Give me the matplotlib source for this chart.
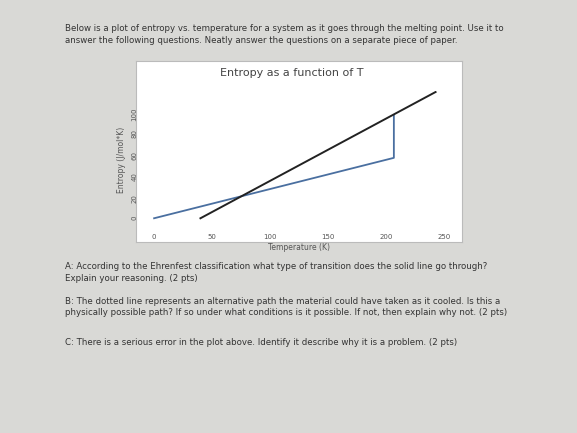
import matplotlib
matplotlib.use("Agg")
import matplotlib.pyplot as plt

blue_T = [0, 207, 207]
blue_S = [0, 56, 95]
black_T = [40, 243]
black_S = [0, 117]
xticks = [0, 50, 100, 150, 200, 250]
yticks = [0, 20, 40, 60, 80, 100]

fig = plt.figure(figsize=(5.77, 4.33), dpi=100)
fig.patch.set_facecolor("#d9d9d6")

fig.text(0.113, 0.945, "Below is a plot of entropy vs. temperature for a system as it goes through the melting point. Use it to\nanswer the following questions. Neatly answer the questions on a separate piece of paper.",
         fontsize=6.2, color="#333333", va="top", linespacing=1.4)

panel = fig.add_axes([0.235, 0.44, 0.565, 0.42])
panel.set_facecolor("white")
panel.set_xticks([]); panel.set_yticks([])
for s in panel.spines.values():
    s.set_color("#bbbbbb")
panel.set_zorder(0)
fig.text(0.505, 0.825, "Entropy as a function of T", ha="center", fontsize=8, color="#444444")

ax = fig.add_axes([0.247, 0.471, 0.542, 0.319])
ax.set_zorder(1)
ax.patch.set_alpha(0)
ax.plot(blue_T, blue_S, color="#4a6fa0", lw=1.3)
ax.plot(black_T, black_S, color="#222222", lw=1.4)
ax.set_xlim(-10, 260)
ax.set_ylim(-10, 118)
ax.set_xticks(xticks)
ax.set_yticks(yticks)
ax.tick_params(labelsize=5, colors="#555555", length=0)
for lab in ax.get_yticklabels():
    lab.set_rotation(90)
for s in ax.spines.values():
    s.set_visible(False)
ax.set_xlabel("Temperature (K)", fontsize=5.5, color="#555555", labelpad=2)
ax.set_ylabel("Entropy (J/mol*K)", fontsize=5.5, color="#555555")

qs = [
    (0.395, "A: According to the Ehrenfest classification what type of transition does the solid line go through?\nExplain your reasoning. (2 pts)"),
    (0.315, "B: The dotted line represents an alternative path the material could have taken as it cooled. Is this a\nphysically possible path? If so under what conditions is it possible. If not, then explain why not. (2 pts)"),
    (0.22, "C: There is a serious error in the plot above. Identify it describe why it is a problem. (2 pts)"),
]
for y, t in qs:
    fig.text(0.113, y, t, fontsize=6.2, color="#333333", va="top", linespacing=1.4)

fig.savefig("out.png", dpi=100, facecolor=fig.get_facecolor())
